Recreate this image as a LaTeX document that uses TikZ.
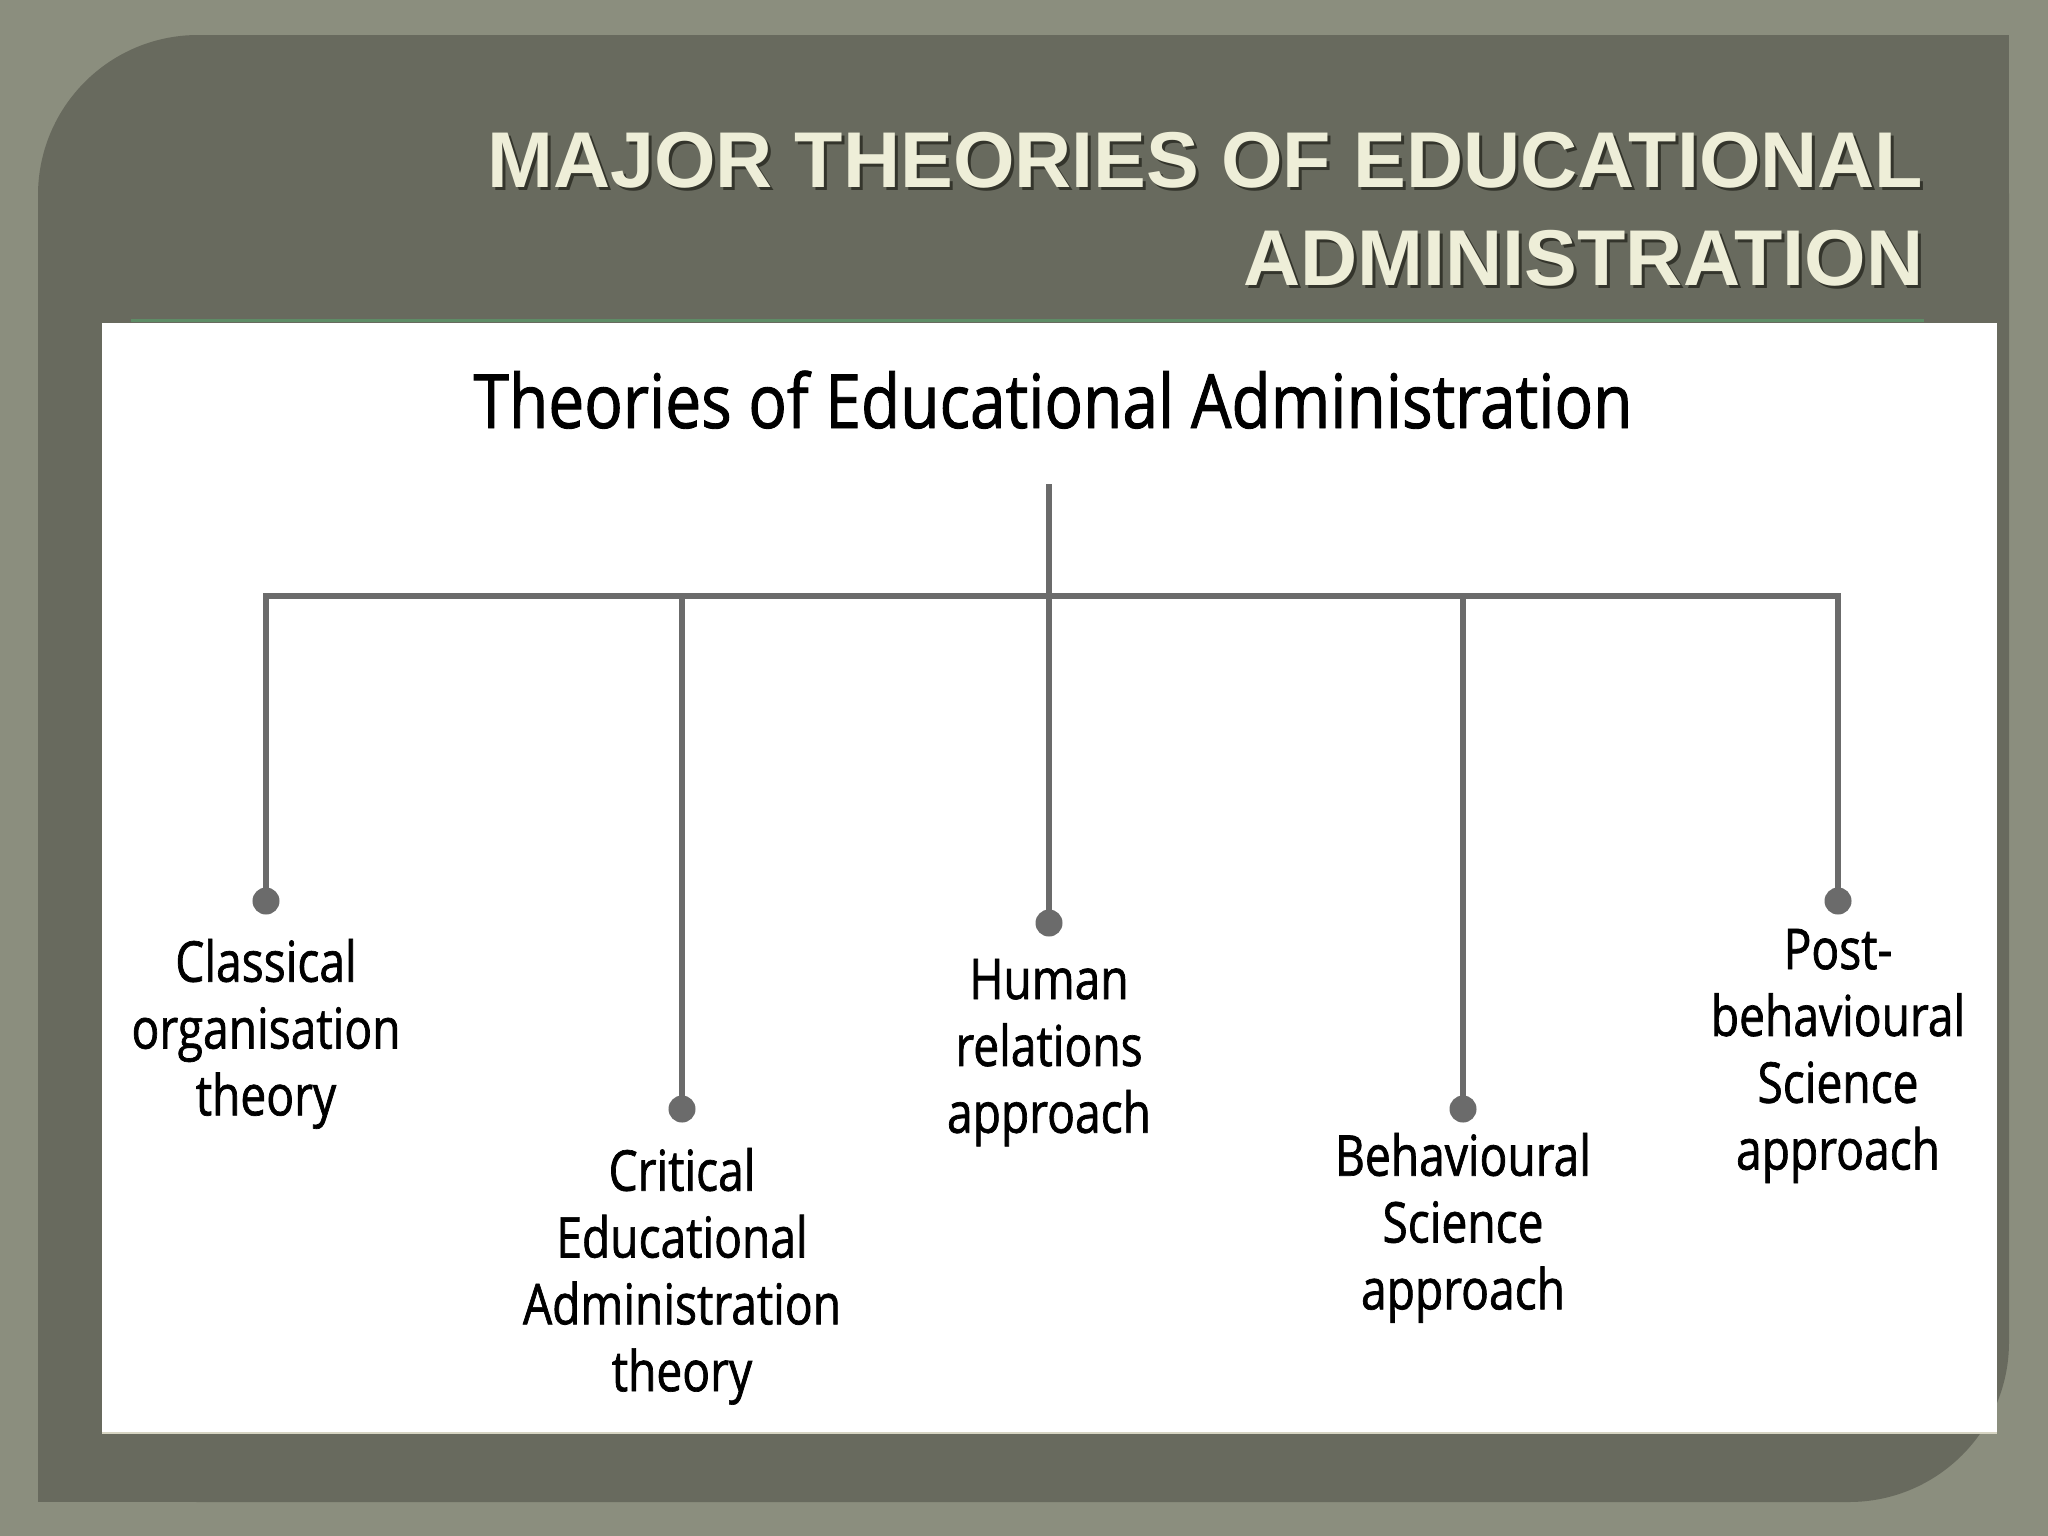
\documentclass[tikz,border=0pt]{standalone}
\usepackage{fontspec}
\setmainfont{Open Sans}
\newfontfamily\headfont{Liberation Sans}
\newfontfamily\narrowfont[FakeStretch=0.82, FakeBold=1.2]{Open Sans}
\newfontfamily\rootfont[FakeStretch=0.855, FakeBold=1.2]{Open Sans}
\usetikzlibrary{positioning}

\definecolor{matgreen}{HTML}{8B8E7E}
\definecolor{slate}{HTML}{686A5E}
\definecolor{rulegreen}{HTML}{5E8C66}
\definecolor{headcream}{HTML}{EEEED8}
\definecolor{headshade}{HTML}{34352C}
\definecolor{treegray}{HTML}{6B6B6B}
\definecolor{panelrim}{HTML}{D6D4C2}

\begin{document}
\begin{tikzpicture}[x=0.01cm, y=-0.01cm,
    heading/.style={font=\headfont\bfseries\fontsize{22.5}{27}\selectfont, inner sep=0pt, anchor=base east},
    root/.style={font=\rootfont\fontsize{21.3}{25}\selectfont, inner sep=0pt},
    leaf/.style={font=\narrowfont\fontsize{16}{19}\selectfont, align=center, inner sep=0pt},
    knob/.style={circle, fill=treegray, inner sep=0pt, minimum size=0.27cm},
    branch/.style={draw=treegray, line width=0.065cm}
]
    % Slide background
    \useasboundingbox (0,0) rectangle (2048,1536);
    \fill[matgreen] (0,0) rectangle (2048,1536);
    \fill[slate, rounded corners=1.6cm] (38,35) rectangle (2009,1502);
    \fill[slate] (1800,35) rectangle (2009,300);
    \fill[slate] (38,1300) rectangle (300,1502);
    \draw[rulegreen, line width=0.03cm] (131,320) -- (1924,320);
    \fill[white] (102,323) rectangle (1997,1433);
    \draw[panelrim, line width=0.02cm] (102,1433) -- (1997,1433);

    % Slide heading
    \node[heading, text=headshade] (heading-top-shade) at (1927,190) {MAJOR THEORIES OF EDUCATIONAL};
    \node[heading, text=headcream] (heading-top) at (1924,187) {MAJOR THEORIES OF EDUCATIONAL};
    \node[heading, text=headshade] (heading-bottom-shade) at (1927,288) {ADMINISTRATION};
    \node[heading, text=headcream] (heading-bottom) at (1924,285) {ADMINISTRATION};

    % Tree
    \node[root, anchor=base] (root) at (1053,428) {Theories of Educational Administration};
    \coordinate (hub) at (1049,596);

    \node[knob] (k-classical) at (266,901) {};
    \node[knob] (k-critical) at (682,1109) {};
    \node[knob] (k-human) at (1049,923) {};
    \node[knob] (k-behav) at (1463,1109) {};
    \node[knob] (k-post) at (1838,901) {};

    \draw[branch, shorten <=0.55cm] (root.south -| hub) -- (hub);
    \foreach \k in {classical,critical,human,behav,post}
        \draw[branch] (hub) -| (k-\k.center);

    % Labels
    \node[leaf, below=0.23cm of k-classical] (classical) {Classical\\organisation\\theory};
    \node[leaf, below=0.24cm of k-critical] (critical) {Critical\\Educational\\Administration\\theory};
    \node[leaf, below=0.21cm of k-human] (human) {Human\\relations\\approach};
    \node[leaf, below=0.09cm of k-behav] (behav) {Behavioural\\Science\\approach};
    \node[leaf, below=0.13cm of k-post] (post) {Post-\\behavioural\\Science\\approach};
\end{tikzpicture}
\end{document}
